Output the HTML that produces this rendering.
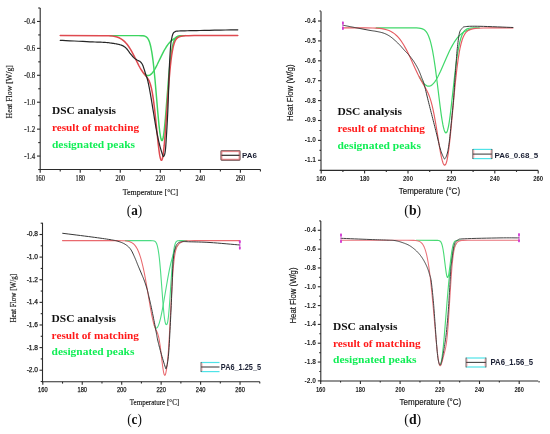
<!DOCTYPE html>
<html><head><meta charset="utf-8"><style>
html,body{margin:0;padding:0;background:#fff;overflow:hidden;}
svg{display:block;}
</style></head><body>
<svg width="550" height="434" viewBox="0 0 550 434">
<rect width="550" height="434" fill="#fff"/>
<line x1="39.7" y1="169.5" x2="260.5" y2="169.5" stroke="#2b2b2b" stroke-width="1.1"/>
<line x1="40.2" y1="8" x2="40.2" y2="170" stroke="#2b2b2b" stroke-width="1.1"/>
<line x1="40.2" y1="169.5" x2="40.2" y2="172.7" stroke="#2b2b2b" stroke-width="1.1"/>
<text x="40.2" y="180.6" font-family="'Liberation Serif', serif" font-size="7.3" text-anchor="middle" fill="#1a1a1a" stroke="#1a1a1a" stroke-width="0.2" textLength="9.53" lengthAdjust="spacingAndGlyphs">160</text>
<line x1="80.24" y1="169.5" x2="80.24" y2="172.7" stroke="#2b2b2b" stroke-width="1.1"/>
<text x="80.24" y="180.6" font-family="'Liberation Serif', serif" font-size="7.3" text-anchor="middle" fill="#1a1a1a" stroke="#1a1a1a" stroke-width="0.2" textLength="9.53" lengthAdjust="spacingAndGlyphs">180</text>
<line x1="120.28" y1="169.5" x2="120.28" y2="172.7" stroke="#2b2b2b" stroke-width="1.1"/>
<text x="120.28" y="180.6" font-family="'Liberation Serif', serif" font-size="7.3" text-anchor="middle" fill="#1a1a1a" stroke="#1a1a1a" stroke-width="0.2" textLength="9.53" lengthAdjust="spacingAndGlyphs">200</text>
<line x1="160.32" y1="169.5" x2="160.32" y2="172.7" stroke="#2b2b2b" stroke-width="1.1"/>
<text x="160.32" y="180.6" font-family="'Liberation Serif', serif" font-size="7.3" text-anchor="middle" fill="#1a1a1a" stroke="#1a1a1a" stroke-width="0.2" textLength="9.53" lengthAdjust="spacingAndGlyphs">220</text>
<line x1="200.36" y1="169.5" x2="200.36" y2="172.7" stroke="#2b2b2b" stroke-width="1.1"/>
<text x="200.36" y="180.6" font-family="'Liberation Serif', serif" font-size="7.3" text-anchor="middle" fill="#1a1a1a" stroke="#1a1a1a" stroke-width="0.2" textLength="9.53" lengthAdjust="spacingAndGlyphs">240</text>
<line x1="240.4" y1="169.5" x2="240.4" y2="172.7" stroke="#2b2b2b" stroke-width="1.1"/>
<text x="240.4" y="180.6" font-family="'Liberation Serif', serif" font-size="7.3" text-anchor="middle" fill="#1a1a1a" stroke="#1a1a1a" stroke-width="0.2" textLength="9.53" lengthAdjust="spacingAndGlyphs">260</text>
<line x1="60.22" y1="169.5" x2="60.22" y2="171.5" stroke="#2b2b2b" stroke-width="1.1"/>
<line x1="100.26" y1="169.5" x2="100.26" y2="171.5" stroke="#2b2b2b" stroke-width="1.1"/>
<line x1="140.3" y1="169.5" x2="140.3" y2="171.5" stroke="#2b2b2b" stroke-width="1.1"/>
<line x1="180.34" y1="169.5" x2="180.34" y2="171.5" stroke="#2b2b2b" stroke-width="1.1"/>
<line x1="220.38" y1="169.5" x2="220.38" y2="171.5" stroke="#2b2b2b" stroke-width="1.1"/>
<line x1="260.42" y1="169.5" x2="260.42" y2="171.5" stroke="#2b2b2b" stroke-width="1.1"/>
<line x1="37" y1="21.46" x2="40.2" y2="21.46" stroke="#2b2b2b" stroke-width="1.1"/>
<text x="35.1" y="24.09" font-family="'Liberation Serif', serif" font-size="7.3" text-anchor="end" fill="#1a1a1a" stroke="#1a1a1a" stroke-width="0.2" textLength="10.75" lengthAdjust="spacingAndGlyphs">-0.4</text>
<line x1="37" y1="48.38" x2="40.2" y2="48.38" stroke="#2b2b2b" stroke-width="1.1"/>
<text x="35.1" y="51.01" font-family="'Liberation Serif', serif" font-size="7.3" text-anchor="end" fill="#1a1a1a" stroke="#1a1a1a" stroke-width="0.2" textLength="10.75" lengthAdjust="spacingAndGlyphs">-0.6</text>
<line x1="37" y1="75.3" x2="40.2" y2="75.3" stroke="#2b2b2b" stroke-width="1.1"/>
<text x="35.1" y="77.93" font-family="'Liberation Serif', serif" font-size="7.3" text-anchor="end" fill="#1a1a1a" stroke="#1a1a1a" stroke-width="0.2" textLength="10.75" lengthAdjust="spacingAndGlyphs">-0.8</text>
<line x1="37" y1="102.22" x2="40.2" y2="102.22" stroke="#2b2b2b" stroke-width="1.1"/>
<text x="35.1" y="104.85" font-family="'Liberation Serif', serif" font-size="7.3" text-anchor="end" fill="#1a1a1a" stroke="#1a1a1a" stroke-width="0.2" textLength="10.75" lengthAdjust="spacingAndGlyphs">-1.0</text>
<line x1="37" y1="129.14" x2="40.2" y2="129.14" stroke="#2b2b2b" stroke-width="1.1"/>
<text x="35.1" y="131.77" font-family="'Liberation Serif', serif" font-size="7.3" text-anchor="end" fill="#1a1a1a" stroke="#1a1a1a" stroke-width="0.2" textLength="10.75" lengthAdjust="spacingAndGlyphs">-1.2</text>
<line x1="37" y1="156.06" x2="40.2" y2="156.06" stroke="#2b2b2b" stroke-width="1.1"/>
<text x="35.1" y="158.69" font-family="'Liberation Serif', serif" font-size="7.3" text-anchor="end" fill="#1a1a1a" stroke="#1a1a1a" stroke-width="0.2" textLength="10.75" lengthAdjust="spacingAndGlyphs">-1.4</text>
<line x1="38.2" y1="8" x2="40.2" y2="8" stroke="#2b2b2b" stroke-width="1.1"/>
<line x1="38.2" y1="34.92" x2="40.2" y2="34.92" stroke="#2b2b2b" stroke-width="1.1"/>
<line x1="38.2" y1="61.84" x2="40.2" y2="61.84" stroke="#2b2b2b" stroke-width="1.1"/>
<line x1="38.2" y1="88.76" x2="40.2" y2="88.76" stroke="#2b2b2b" stroke-width="1.1"/>
<line x1="38.2" y1="115.68" x2="40.2" y2="115.68" stroke="#2b2b2b" stroke-width="1.1"/>
<line x1="38.2" y1="142.6" x2="40.2" y2="142.6" stroke="#2b2b2b" stroke-width="1.1"/>
<line x1="38.2" y1="169.52" x2="40.2" y2="169.52" stroke="#2b2b2b" stroke-width="1.1"/>
<text x="150.5" y="195.3" font-family="'Liberation Serif', serif" font-size="8" text-anchor="middle" fill="#111" stroke="#111" stroke-width="0.15" textLength="55.5" lengthAdjust="spacingAndGlyphs">Temperature [°C]</text>
<text x="12" y="91.8" font-family="'Liberation Serif', serif" font-size="8" text-anchor="middle" fill="#111" stroke="#111" stroke-width="0.15" transform="rotate(-90 12 91.8)" textLength="53.4" lengthAdjust="spacingAndGlyphs">Heat Flow [W/g]</text>
<text x="134.5" y="214.5" font-family="'Liberation Serif', serif" font-size="15" text-anchor="middle" fill="#111" textLength="15.4" lengthAdjust="spacingAndGlyphs">(<tspan font-weight="bold">a</tspan>)</text>
<polyline points="143.8,73.22 145,74.37 145.8,74.93 147,75.46 147.8,75.59 148.6,75.55 149.4,75.3 150.2,74.87 151.4,73.89 152.2,73.02 153,71.99 153.8,70.82 155,68.84 157,65.05 161.8,55.07 163.8,51.17 165,49.01 166.2,47.03 168.2,44.15 169.4,42.68 170.6,41.4 171.8,40.3 173.4,39.09 174.6,38.36 176.2,37.58 177.8,36.99 179.4,36.56" fill="none" stroke="#3dd460" stroke-width="1.45" stroke-linejoin="round" stroke-linecap="round"/>
<polyline points="109.8,35.6 138.6,35.61 141.4,35.66 143,35.77 144.6,36.08 145.4,36.38 146.2,36.84 147,37.52 147.4,37.96 148.2,39.14 148.6,39.9 149.4,41.83 149.8,43.03 150.6,46 151,47.8 151.8,52.09 152.2,54.62 153,60.46 153.8,67.35 155,79.54 157.8,112.38 159,125.14 159.8,132.02 160.6,137.1 161,138.85 161.4,140.03 161.8,140.63 162.2,140.61 162.6,139.92 163,138.53 163.4,136.5 164.2,130.62 165.4,118.21 168.2,82.8 169.4,69.2 170.2,61.51 171,55.06 171.8,49.82 172.6,45.73 173.4,42.62 174.2,40.34 174.6,39.45 175.4,38.1 175.8,37.59 176.6,36.84 177,36.57 177.8,36.18 178.6,35.94 179.4,35.79 181.4,35.64 185,35.6" fill="none" stroke="#3dd460" stroke-width="1.45" stroke-linejoin="round" stroke-linecap="round"/>
<polyline points="60.2,35.6 102.6,35.63 108.6,35.78 112.6,36.12 115,36.51 117,37.02 119,37.76 120.6,38.55 122.2,39.57 123.8,40.84 125.4,42.39 126.6,43.76 127.8,45.3 129,47.02 130.2,48.91 131.4,50.96 133.8,55.46 139,65.8 140.2,68.01 141.4,70.04 143.4,72.99 147,77.38 148.2,79.14 149,80.64 149.4,81.53 150.2,83.69 150.6,84.99 151.4,88.11 152.2,92.04 153,96.85 153.8,102.58 154.6,109.18 155.4,116.52 158.2,143.87 159,150.46 159.4,153.26 159.8,155.65 160.2,157.6 160.6,159.04 161,159.96 161.4,160.32 161.8,160.1 162.2,159.28 162.6,157.78 163,155.62 163.4,152.81 164.2,145.45 165.4,130.95 167.8,96.85 169,81.03 170.2,67.72 171,60.47 171.8,54.52 172.2,52.01 173,47.82 173.4,46.11 174.2,43.32 175,41.25 175.8,39.75 176.6,38.66 177.4,37.88 178.2,37.32 179,36.91 180.2,36.5 181.4,36.23 183,36 185,35.83 188.6,35.68 194.2,35.61 237.8,35.6" fill="none" stroke="#df4a50" stroke-width="1.5" stroke-linejoin="round" stroke-linecap="round"/>
<polyline points="60.2,40.3 62.6,40.42 65.9,40.59 69.84,40.79 74.16,41.01 78.6,41.24 82.89,41.45 86.78,41.65 90,41.8 92.64,41.92 94.98,42.01 97.06,42.08 98.93,42.14 100.62,42.2 102.17,42.26 103.61,42.32 105,42.4 106.25,42.49 107.29,42.58 108.18,42.67 108.96,42.76 109.67,42.86 110.36,42.97 111.09,43.08 111.9,43.2 112.78,43.33 113.68,43.46 114.59,43.6 115.49,43.74 116.38,43.9 117.24,44.06 118.05,44.22 118.8,44.4 119.49,44.58 120.14,44.76 120.74,44.95 121.31,45.14 121.86,45.35 122.38,45.58 122.89,45.83 123.4,46.1 123.89,46.39 124.35,46.7 124.8,47.02 125.23,47.37 125.64,47.74 126.06,48.13 126.47,48.55 126.9,49 127.33,49.5 127.75,50.04 128.18,50.63 128.6,51.23 129.02,51.84 129.45,52.45 129.87,53.04 130.3,53.6 130.73,54.14 131.17,54.68 131.61,55.21 132.05,55.73 132.49,56.24 132.93,56.72 133.37,57.18 133.8,57.6 134.23,57.99 134.67,58.35 135.1,58.69 135.54,59.01 135.97,59.3 136.39,59.58 136.8,59.85 137.2,60.1 137.59,60.33 137.97,60.51 138.35,60.67 138.72,60.82 139.08,60.98 139.43,61.15 139.77,61.35 140.1,61.6 140.42,61.88 140.73,62.19 141.03,62.51 141.33,62.86 141.61,63.23 141.88,63.62 142.15,64.05 142.4,64.5 142.64,64.99 142.86,65.5 143.08,66.05 143.28,66.62 143.48,67.21 143.68,67.83 143.89,68.46 144.1,69.1 144.32,69.77 144.55,70.48 144.77,71.22 145,71.97 145.23,72.72 145.45,73.47 145.68,74.2 145.9,74.9 146.11,75.52 146.31,76.04 146.51,76.53 146.7,77.01 146.9,77.55 147.11,78.2 147.35,79 147.6,80 147.88,81.19 148.17,82.52 148.49,83.98 148.81,85.56 149.15,87.24 149.49,89.01 149.84,90.87 150.2,92.8 150.56,94.85 150.94,97.04 151.33,99.35 151.72,101.74 152.12,104.17 152.51,106.61 152.91,109.04 153.3,111.4 153.69,113.75 154.08,116.15 154.46,118.56 154.85,120.96 155.24,123.33 155.63,125.64 156.01,127.87 156.4,130 156.79,132.04 157.18,134.01 157.56,135.92 157.95,137.76 158.34,139.54 158.72,141.26 159.11,142.91 159.5,144.5 159.9,146.06 160.32,147.6 160.75,149.1 161.17,150.53 161.58,151.85 161.96,153.04 162.3,154.06 162.6,154.9 162.84,155.54 163.03,156.02 163.18,156.34 163.3,156.52 163.41,156.59 163.52,156.55 163.65,156.41 163.8,156.2 163.98,155.93 164.16,155.61 164.35,155.2 164.55,154.68 164.75,154.03 164.94,153.21 165.12,152.21 165.3,151 165.46,149.57 165.62,147.94 165.77,146.12 165.91,144.15 166.06,142.03 166.2,139.79 166.35,137.44 166.5,135 166.66,132.4 166.83,129.58 167,126.61 167.18,123.54 167.34,120.42 167.51,117.32 167.66,114.3 167.8,111.4 167.92,108.62 168.04,105.91 168.14,103.24 168.24,100.6 168.33,97.97 168.42,95.34 168.51,92.69 168.6,90 168.69,87.28 168.77,84.53 168.84,81.78 168.92,79.01 169,76.25 169.09,73.49 169.18,70.73 169.3,68 169.44,65.18 169.59,62.24 169.76,59.25 169.93,56.29 170.11,53.44 170.28,50.79 170.45,48.42 170.6,46.4 170.74,44.78 170.86,43.5 170.98,42.48 171.1,41.66 171.22,40.98 171.34,40.35 171.46,39.71 171.6,39 171.74,38.24 171.89,37.51 172.04,36.82 172.19,36.17 172.36,35.56 172.53,34.99 172.71,34.47 172.9,34 173.09,33.59 173.28,33.24 173.47,32.95 173.68,32.69 173.9,32.47 174.16,32.27 174.45,32.09 174.8,31.9 175.09,31.73 175.27,31.58 175.43,31.46 175.65,31.35 176.02,31.26 176.63,31.17 177.56,31.09 178.9,31 180.61,30.92 182.59,30.85 184.83,30.79 187.34,30.74 190.12,30.68 193.15,30.63 196.45,30.57 200,30.5 204.18,30.42 209.16,30.32 214.61,30.22 220.22,30.12 225.66,30.02 230.62,29.93 234.77,29.86 237.8,29.8" fill="none" stroke="#262626" stroke-width="1.2" stroke-linejoin="round" stroke-linecap="round"/>
<rect x="221" y="150.8" width="19" height="9.3" rx="0.6" fill="none" stroke="#6a4446" stroke-width="1.1"/>
<rect x="221.9" y="151.7" width="17.2" height="7.5" fill="none" stroke="#e4676c" stroke-width="0.8"/>
<line x1="221.5" y1="155.3" x2="239.5" y2="155.3" stroke="#2a2a2a" stroke-width="1.2"/>
<text x="242.1" y="157.9" font-family="'Liberation Sans', Arial, sans-serif" font-size="8.0" text-anchor="start" fill="#1a1f33" font-weight="bold" textLength="14.9" lengthAdjust="spacingAndGlyphs">PA6</text>
<text x="52" y="114.4" font-family="'Liberation Serif', serif" font-size="11" text-anchor="start" fill="#111" font-weight="bold" textLength="64" lengthAdjust="spacingAndGlyphs">DSC analysis</text>
<text x="52" y="131.4" font-family="'Liberation Serif', serif" font-size="11" text-anchor="start" fill="#ff1a1a" font-weight="bold" textLength="87" lengthAdjust="spacingAndGlyphs">result of matching</text>
<text x="52" y="148" font-family="'Liberation Serif', serif" font-size="11" text-anchor="start" fill="#10ee55" font-weight="bold" textLength="83" lengthAdjust="spacingAndGlyphs">designated peaks</text>
<line x1="320.5" y1="170.4" x2="538.2" y2="170.4" stroke="#2b2b2b" stroke-width="1.1"/>
<line x1="321" y1="11.2" x2="321" y2="170.9" stroke="#2b2b2b" stroke-width="1.1"/>
<line x1="321.2" y1="170.4" x2="321.2" y2="173.4" stroke="#2b2b2b" stroke-width="1.1"/>
<text x="321.2" y="181.3" font-family="'Liberation Sans', Arial, sans-serif" font-size="7" text-anchor="middle" fill="#222" font-weight="bold" textLength="9.93" lengthAdjust="spacingAndGlyphs">160</text>
<line x1="364.6" y1="170.4" x2="364.6" y2="173.4" stroke="#2b2b2b" stroke-width="1.1"/>
<text x="364.6" y="181.3" font-family="'Liberation Sans', Arial, sans-serif" font-size="7" text-anchor="middle" fill="#222" font-weight="bold" textLength="9.93" lengthAdjust="spacingAndGlyphs">180</text>
<line x1="408" y1="170.4" x2="408" y2="173.4" stroke="#2b2b2b" stroke-width="1.1"/>
<text x="408" y="181.3" font-family="'Liberation Sans', Arial, sans-serif" font-size="7" text-anchor="middle" fill="#222" font-weight="bold" textLength="9.93" lengthAdjust="spacingAndGlyphs">200</text>
<line x1="451.4" y1="170.4" x2="451.4" y2="173.4" stroke="#2b2b2b" stroke-width="1.1"/>
<text x="451.4" y="181.3" font-family="'Liberation Sans', Arial, sans-serif" font-size="7" text-anchor="middle" fill="#222" font-weight="bold" textLength="9.93" lengthAdjust="spacingAndGlyphs">220</text>
<line x1="494.8" y1="170.4" x2="494.8" y2="173.4" stroke="#2b2b2b" stroke-width="1.1"/>
<text x="494.8" y="181.3" font-family="'Liberation Sans', Arial, sans-serif" font-size="7" text-anchor="middle" fill="#222" font-weight="bold" textLength="9.93" lengthAdjust="spacingAndGlyphs">240</text>
<line x1="538.2" y1="170.4" x2="538.2" y2="173.4" stroke="#2b2b2b" stroke-width="1.1"/>
<text x="538.2" y="181.3" font-family="'Liberation Sans', Arial, sans-serif" font-size="7" text-anchor="middle" fill="#222" font-weight="bold" textLength="9.93" lengthAdjust="spacingAndGlyphs">260</text>
<line x1="342.9" y1="170.4" x2="342.9" y2="171.9" stroke="#2b2b2b" stroke-width="1.1"/>
<line x1="386.3" y1="170.4" x2="386.3" y2="171.9" stroke="#2b2b2b" stroke-width="1.1"/>
<line x1="429.7" y1="170.4" x2="429.7" y2="171.9" stroke="#2b2b2b" stroke-width="1.1"/>
<line x1="473.1" y1="170.4" x2="473.1" y2="171.9" stroke="#2b2b2b" stroke-width="1.1"/>
<line x1="516.5" y1="170.4" x2="516.5" y2="171.9" stroke="#2b2b2b" stroke-width="1.1"/>
<line x1="318" y1="21" x2="321" y2="21" stroke="#2b2b2b" stroke-width="1.1"/>
<text x="316" y="22.96" font-family="'Liberation Sans', Arial, sans-serif" font-size="7" text-anchor="end" fill="#222" font-weight="bold" textLength="11.22" lengthAdjust="spacingAndGlyphs">-0.4</text>
<line x1="318" y1="40.9" x2="321" y2="40.9" stroke="#2b2b2b" stroke-width="1.1"/>
<text x="316" y="42.86" font-family="'Liberation Sans', Arial, sans-serif" font-size="7" text-anchor="end" fill="#222" font-weight="bold" textLength="11.22" lengthAdjust="spacingAndGlyphs">-0.5</text>
<line x1="318" y1="60.8" x2="321" y2="60.8" stroke="#2b2b2b" stroke-width="1.1"/>
<text x="316" y="62.76" font-family="'Liberation Sans', Arial, sans-serif" font-size="7" text-anchor="end" fill="#222" font-weight="bold" textLength="11.22" lengthAdjust="spacingAndGlyphs">-0.6</text>
<line x1="318" y1="80.7" x2="321" y2="80.7" stroke="#2b2b2b" stroke-width="1.1"/>
<text x="316" y="82.66" font-family="'Liberation Sans', Arial, sans-serif" font-size="7" text-anchor="end" fill="#222" font-weight="bold" textLength="11.22" lengthAdjust="spacingAndGlyphs">-0.7</text>
<line x1="318" y1="100.6" x2="321" y2="100.6" stroke="#2b2b2b" stroke-width="1.1"/>
<text x="316" y="102.56" font-family="'Liberation Sans', Arial, sans-serif" font-size="7" text-anchor="end" fill="#222" font-weight="bold" textLength="11.22" lengthAdjust="spacingAndGlyphs">-0.8</text>
<line x1="318" y1="120.5" x2="321" y2="120.5" stroke="#2b2b2b" stroke-width="1.1"/>
<text x="316" y="122.46" font-family="'Liberation Sans', Arial, sans-serif" font-size="7" text-anchor="end" fill="#222" font-weight="bold" textLength="11.22" lengthAdjust="spacingAndGlyphs">-0.9</text>
<line x1="318" y1="140.4" x2="321" y2="140.4" stroke="#2b2b2b" stroke-width="1.1"/>
<text x="316" y="142.36" font-family="'Liberation Sans', Arial, sans-serif" font-size="7" text-anchor="end" fill="#222" font-weight="bold" textLength="11.22" lengthAdjust="spacingAndGlyphs">-1.0</text>
<line x1="318" y1="160.3" x2="321" y2="160.3" stroke="#2b2b2b" stroke-width="1.1"/>
<text x="316" y="162.26" font-family="'Liberation Sans', Arial, sans-serif" font-size="7" text-anchor="end" fill="#222" font-weight="bold" textLength="11.22" lengthAdjust="spacingAndGlyphs">-1.1</text>
<line x1="319.5" y1="11.05" x2="321" y2="11.05" stroke="#2b2b2b" stroke-width="1.1"/>
<line x1="319.5" y1="30.95" x2="321" y2="30.95" stroke="#2b2b2b" stroke-width="1.1"/>
<line x1="319.5" y1="50.85" x2="321" y2="50.85" stroke="#2b2b2b" stroke-width="1.1"/>
<line x1="319.5" y1="70.75" x2="321" y2="70.75" stroke="#2b2b2b" stroke-width="1.1"/>
<line x1="319.5" y1="90.65" x2="321" y2="90.65" stroke="#2b2b2b" stroke-width="1.1"/>
<line x1="319.5" y1="110.55" x2="321" y2="110.55" stroke="#2b2b2b" stroke-width="1.1"/>
<line x1="319.5" y1="130.45" x2="321" y2="130.45" stroke="#2b2b2b" stroke-width="1.1"/>
<line x1="319.5" y1="150.35" x2="321" y2="150.35" stroke="#2b2b2b" stroke-width="1.1"/>
<line x1="319.5" y1="170.25" x2="321" y2="170.25" stroke="#2b2b2b" stroke-width="1.1"/>
<text x="429.4" y="194.4" font-family="'Liberation Sans', Arial, sans-serif" font-size="8.6" text-anchor="middle" fill="#111" stroke="#111" stroke-width="0.15" textLength="61.3" lengthAdjust="spacingAndGlyphs">Temperature (°C)</text>
<text x="293.4" y="92.7" font-family="'Liberation Sans', Arial, sans-serif" font-size="8.4" text-anchor="middle" fill="#111" stroke="#111" stroke-width="0.15" transform="rotate(-90 293.4 92.7)" textLength="56.4" lengthAdjust="spacingAndGlyphs">Heat Flow (W/g)</text>
<text x="412.7" y="214.5" font-family="'Liberation Serif', serif" font-size="15" text-anchor="middle" fill="#111" textLength="16.8" lengthAdjust="spacingAndGlyphs">(<tspan font-weight="bold">b</tspan>)</text>
<polyline points="419.36,76.88 421.35,80.22 422.95,82.43 423.75,83.37 424.55,84.18 425.35,84.86 426.15,85.41 426.95,85.81 427.75,86.07 428.55,86.19 429.35,86.16 430.15,85.97 430.95,85.62 431.75,85.11 432.55,84.45 433.75,83.19 434.95,81.62 436.15,79.78 437.74,76.93 438.94,74.56 440.54,71.16 446.54,57.41 449.34,51.3 450.94,48.09 452.54,45.13 454.13,42.44 455.33,40.6 456.93,38.41 458.53,36.51 460.13,34.87 462.13,33.17 463.73,32.06 465.73,30.95 467.73,30.1 470.13,29.35" fill="none" stroke="#40d86a" stroke-width="1.2" stroke-linejoin="round" stroke-linecap="round"/>
<polyline points="376.18,27.9 412.56,27.91 416.56,27.97 418.96,28.12 420.55,28.35 421.75,28.64 422.95,29.09 423.75,29.52 424.55,30.07 425.35,30.78 426.15,31.69 426.95,32.82 427.75,34.23 428.55,35.95 429.75,39.22 430.55,41.92 431.35,45.08 432.55,50.72 433.75,57.5 435.35,68.21 436.94,80.49 440.14,106.52 441.34,115.34 442.14,120.51 442.94,124.93 443.34,126.82 444.14,129.88 444.54,131.03 444.94,131.91 445.34,132.51 445.74,132.84 446.14,132.88 446.54,132.58 446.94,131.93 447.34,130.94 447.74,129.62 448.54,126.03 449.34,121.31 450.14,115.63 450.94,109.19 454.53,76.76 455.73,66.72 456.53,60.65 457.73,52.64 458.53,48.08 459.73,42.4 460.93,38 462.13,34.73 462.53,33.86 463.33,32.38 464.13,31.23 464.93,30.34 465.73,29.66 466.53,29.16 467.33,28.78 468.13,28.51 469.33,28.25 470.52,28.09 473.32,27.94 479.32,27.9" fill="none" stroke="#40d86a" stroke-width="1.2" stroke-linejoin="round" stroke-linecap="round"/>
<polyline points="343,27.9 364.19,27.92 372.98,28.03 376.58,28.18 379.38,28.39 381.78,28.68 384.18,29.09 386.57,29.69 388.97,30.53 390.97,31.46 392.97,32.65 394.97,34.14 396.97,35.96 398.97,38.15 400.57,40.19 402.17,42.49 403.76,45.04 405.36,47.84 406.96,50.87 409.76,56.62 415.36,68.9 417.76,73.97 419.36,77.14 420.95,80.12 425.35,87.74 426.55,89.95 428.15,93.3 428.95,95.24 429.75,97.41 430.95,101.16 432.15,105.62 432.95,109.03 434.15,114.81 436.15,126.07 439.74,148.37 440.54,152.84 441.34,156.82 442.14,160.17 442.94,162.75 443.34,163.72 443.74,164.44 444.14,164.92 444.54,165.13 444.94,165.09 445.34,164.77 445.74,164.17 446.14,163.29 446.54,162.09 446.94,160.54 447.74,156.45 448.14,153.93 448.94,148.04 449.74,141.15 450.94,129.38 454.13,94.84 455.33,82.66 456.93,68.34 458.13,59.34 459.33,51.89 460.13,47.76 460.93,44.25 462.13,40 462.93,37.76 463.73,35.93 464.53,34.43 465.73,32.71 466.53,31.84 467.73,30.83 468.93,30.11 470.13,29.58 471.72,29.08 473.72,28.67 475.72,28.41 477.72,28.23 483.72,27.99 491.71,27.91 512.9,27.9" fill="none" stroke="#e65c62" stroke-width="1.15" stroke-linejoin="round" stroke-linecap="round"/>
<polyline points="343,25.2 343.46,25.29 344.09,25.42 344.82,25.57 345.64,25.73 346.51,25.9 347.38,26.08 348.22,26.25 349,26.4 349.72,26.54 350.41,26.68 351.09,26.81 351.77,26.94 352.46,27.07 353.17,27.21 353.91,27.35 354.7,27.5 355.53,27.66 356.4,27.83 357.29,28 358.21,28.18 359.14,28.35 360.09,28.54 361.04,28.72 362,28.9 362.97,29.09 363.98,29.28 365,29.47 366.02,29.67 367.05,29.86 368.06,30.05 369.05,30.23 370,30.4 370.92,30.55 371.8,30.69 372.67,30.82 373.52,30.94 374.36,31.06 375.2,31.19 376.05,31.34 376.9,31.5 377.77,31.68 378.65,31.85 379.54,32.04 380.42,32.24 381.29,32.45 382.15,32.68 382.99,32.93 383.8,33.2 384.58,33.49 385.33,33.8 386.06,34.12 386.78,34.47 387.48,34.84 388.18,35.23 388.89,35.65 389.6,36.1 390.32,36.59 391.06,37.13 391.79,37.7 392.52,38.29 393.24,38.9 393.95,39.51 394.64,40.11 395.3,40.7 395.94,41.27 396.55,41.84 397.14,42.4 397.72,42.96 398.29,43.53 398.86,44.11 399.42,44.7 400,45.3 400.58,45.92 401.16,46.56 401.73,47.22 402.31,47.88 402.88,48.55 403.45,49.21 404.03,49.86 404.6,50.5 405.18,51.12 405.75,51.72 406.33,52.31 406.9,52.89 407.48,53.49 408.05,54.1 408.63,54.73 409.2,55.4 409.78,56.11 410.38,56.85 410.98,57.62 411.58,58.4 412.16,59.19 412.73,59.98 413.28,60.75 413.8,61.5 414.29,62.24 414.76,62.97 415.21,63.71 415.64,64.43 416.06,65.15 416.46,65.85 416.84,66.53 417.2,67.2 417.54,67.84 417.85,68.44 418.15,69.03 418.43,69.6 418.69,70.17 418.96,70.76 419.22,71.36 419.5,72 419.78,72.66 420.05,73.35 420.32,74.04 420.59,74.75 420.86,75.47 421.14,76.2 421.42,76.95 421.7,77.7 421.98,78.4 422.25,79.02 422.52,79.62 422.79,80.24 423.07,80.95 423.38,81.79 423.72,82.83 424.1,84.1 424.52,85.66 424.99,87.46 425.48,89.46 425.99,91.59 426.52,93.79 427.06,96.02 427.58,98.21 428.1,100.3 428.61,102.33 429.12,104.35 429.63,106.38 430.14,108.4 430.66,110.42 431.17,112.45 431.69,114.47 432.2,116.5 432.71,118.52 433.23,120.55 433.74,122.57 434.26,124.59 434.77,126.62 435.28,128.64 435.79,130.67 436.3,132.7 436.81,134.79 437.33,136.96 437.85,139.17 438.36,141.36 438.87,143.48 439.37,145.5 439.84,147.35 440.3,149 440.74,150.45 441.17,151.75 441.59,152.92 442,153.97 442.39,154.9 442.75,155.72 443.09,156.45 443.4,157.1 443.67,157.66 443.89,158.13 444.07,158.5 444.24,158.76 444.41,158.92 444.58,158.97 444.77,158.89 445,158.7 445.26,158.38 445.55,157.94 445.86,157.38 446.18,156.71 446.49,155.93 446.81,155.05 447.11,154.07 447.4,153 447.67,151.85 447.93,150.62 448.17,149.29 448.42,147.86 448.66,146.32 448.9,144.65 449.15,142.85 449.4,140.9 449.66,138.75 449.92,136.4 450.18,133.89 450.45,131.26 450.72,128.57 450.98,125.87 451.24,123.19 451.5,120.6 451.76,118.06 452.02,115.52 452.28,112.99 452.54,110.45 452.8,107.91 453.04,105.37 453.28,102.84 453.5,100.3 453.7,97.75 453.89,95.17 454.07,92.59 454.24,90.01 454.41,87.44 454.57,84.91 454.73,82.43 454.9,80 455.07,77.61 455.24,75.24 455.4,72.89 455.57,70.58 455.73,68.33 455.89,66.14 456.05,64.02 456.2,62 456.34,60.1 456.47,58.33 456.58,56.65 456.7,55.02 456.82,53.42 456.96,51.81 457.12,50.15 457.3,48.4 457.51,46.51 457.74,44.47 457.99,42.36 458.25,40.25 458.52,38.21 458.81,36.31 459.1,34.61 459.4,33.2 459.7,32.08 460.01,31.2 460.33,30.51 460.66,29.96 461,29.52 461.35,29.15 461.72,28.79 462.1,28.4 462.42,28.02 462.66,27.7 462.87,27.44 463.12,27.22 463.45,27.03 463.94,26.87 464.64,26.73 465.6,26.6 466.75,26.48 468,26.38 469.39,26.31 470.96,26.26 472.77,26.24 474.84,26.23 477.24,26.26 480,26.3 483.45,26.39 487.7,26.52 492.43,26.69 497.35,26.88 502.16,27.07 506.55,27.25 510.24,27.4 512.9,27.5" fill="none" stroke="#383838" stroke-width="1.0" stroke-linejoin="round" stroke-linecap="round"/>
<line x1="342.9" y1="21.5" x2="342.9" y2="29.8" stroke="#d23ad2" stroke-width="0.7"/>
<rect x="342" y="21.5" width="1.8" height="3" rx="0.9" fill="#d23ad2"/>
<rect x="342" y="26.8" width="1.8" height="3" rx="0.9" fill="#d23ad2"/>
<line x1="472.9" y1="149.4" x2="491.9" y2="149.4" stroke="#4fe3e8" stroke-width="1.2"/>
<line x1="472.9" y1="158.6" x2="491.9" y2="158.6" stroke="#4fe3e8" stroke-width="1.2"/>
<line x1="472.9" y1="149" x2="472.9" y2="159" stroke="#3a3a3a" stroke-width="0.9"/>
<line x1="473.8" y1="150" x2="473.8" y2="158" stroke="#f09a9e" stroke-width="0.8"/>
<line x1="491.9" y1="149" x2="491.9" y2="159" stroke="#3a3a3a" stroke-width="0.9"/>
<line x1="491" y1="150" x2="491" y2="158" stroke="#f09a9e" stroke-width="0.8"/>
<line x1="472.9" y1="154.1" x2="491.9" y2="154.1" stroke="#444" stroke-width="1.1"/>
<text x="494.5" y="157.9" font-family="'Liberation Sans', Arial, sans-serif" font-size="8.0" text-anchor="start" fill="#1a1f33" font-weight="bold" textLength="43.7" lengthAdjust="spacingAndGlyphs">PA6_0.68_5</text>
<text x="337.4" y="115" font-family="'Liberation Serif', serif" font-size="11" text-anchor="start" fill="#111" font-weight="bold" textLength="64.6" lengthAdjust="spacingAndGlyphs">DSC analysis</text>
<text x="337.4" y="132" font-family="'Liberation Serif', serif" font-size="11" text-anchor="start" fill="#ff1a1a" font-weight="bold" textLength="87.6" lengthAdjust="spacingAndGlyphs">result of matching</text>
<text x="337.4" y="148.6" font-family="'Liberation Serif', serif" font-size="11" text-anchor="start" fill="#10ee55" font-weight="bold" textLength="83.6" lengthAdjust="spacingAndGlyphs">designated peaks</text>
<line x1="42" y1="381.8" x2="259.8" y2="381.8" stroke="#2b2b2b" stroke-width="1.1"/>
<line x1="42.5" y1="222.8" x2="42.5" y2="382.3" stroke="#2b2b2b" stroke-width="1.1"/>
<line x1="42.8" y1="381.8" x2="42.8" y2="384.8" stroke="#2b2b2b" stroke-width="1.1"/>
<text x="42.8" y="392.4" font-family="'Liberation Sans', Arial, sans-serif" font-size="6.8" text-anchor="middle" fill="#1a1a1a" stroke="#1a1a1a" stroke-width="0.25" textLength="9.53" lengthAdjust="spacingAndGlyphs">160</text>
<line x1="82.25" y1="381.8" x2="82.25" y2="384.8" stroke="#2b2b2b" stroke-width="1.1"/>
<text x="82.25" y="392.4" font-family="'Liberation Sans', Arial, sans-serif" font-size="6.8" text-anchor="middle" fill="#1a1a1a" stroke="#1a1a1a" stroke-width="0.25" textLength="9.53" lengthAdjust="spacingAndGlyphs">180</text>
<line x1="121.7" y1="381.8" x2="121.7" y2="384.8" stroke="#2b2b2b" stroke-width="1.1"/>
<text x="121.7" y="392.4" font-family="'Liberation Sans', Arial, sans-serif" font-size="6.8" text-anchor="middle" fill="#1a1a1a" stroke="#1a1a1a" stroke-width="0.25" textLength="9.53" lengthAdjust="spacingAndGlyphs">200</text>
<line x1="161.15" y1="381.8" x2="161.15" y2="384.8" stroke="#2b2b2b" stroke-width="1.1"/>
<text x="161.15" y="392.4" font-family="'Liberation Sans', Arial, sans-serif" font-size="6.8" text-anchor="middle" fill="#1a1a1a" stroke="#1a1a1a" stroke-width="0.25" textLength="9.53" lengthAdjust="spacingAndGlyphs">220</text>
<line x1="200.6" y1="381.8" x2="200.6" y2="384.8" stroke="#2b2b2b" stroke-width="1.1"/>
<text x="200.6" y="392.4" font-family="'Liberation Sans', Arial, sans-serif" font-size="6.8" text-anchor="middle" fill="#1a1a1a" stroke="#1a1a1a" stroke-width="0.25" textLength="9.53" lengthAdjust="spacingAndGlyphs">240</text>
<line x1="240.05" y1="381.8" x2="240.05" y2="384.8" stroke="#2b2b2b" stroke-width="1.1"/>
<text x="240.05" y="392.4" font-family="'Liberation Sans', Arial, sans-serif" font-size="6.8" text-anchor="middle" fill="#1a1a1a" stroke="#1a1a1a" stroke-width="0.25" textLength="9.53" lengthAdjust="spacingAndGlyphs">260</text>
<line x1="62.52" y1="381.8" x2="62.52" y2="383.6" stroke="#2b2b2b" stroke-width="1.1"/>
<line x1="101.97" y1="381.8" x2="101.97" y2="383.6" stroke="#2b2b2b" stroke-width="1.1"/>
<line x1="141.43" y1="381.8" x2="141.43" y2="383.6" stroke="#2b2b2b" stroke-width="1.1"/>
<line x1="180.88" y1="381.8" x2="180.88" y2="383.6" stroke="#2b2b2b" stroke-width="1.1"/>
<line x1="220.32" y1="381.8" x2="220.32" y2="383.6" stroke="#2b2b2b" stroke-width="1.1"/>
<line x1="259.77" y1="381.8" x2="259.77" y2="383.6" stroke="#2b2b2b" stroke-width="1.1"/>
<line x1="39.5" y1="234.5" x2="42.5" y2="234.5" stroke="#2b2b2b" stroke-width="1.1"/>
<text x="38" y="236.4" font-family="'Liberation Sans', Arial, sans-serif" font-size="6.8" text-anchor="end" fill="#1a1a1a" stroke="#1a1a1a" stroke-width="0.25" textLength="11.37" lengthAdjust="spacingAndGlyphs">-0.8</text>
<line x1="39.5" y1="257.12" x2="42.5" y2="257.12" stroke="#2b2b2b" stroke-width="1.1"/>
<text x="38" y="259.02" font-family="'Liberation Sans', Arial, sans-serif" font-size="6.8" text-anchor="end" fill="#1a1a1a" stroke="#1a1a1a" stroke-width="0.25" textLength="11.37" lengthAdjust="spacingAndGlyphs">-1.0</text>
<line x1="39.5" y1="279.74" x2="42.5" y2="279.74" stroke="#2b2b2b" stroke-width="1.1"/>
<text x="38" y="281.64" font-family="'Liberation Sans', Arial, sans-serif" font-size="6.8" text-anchor="end" fill="#1a1a1a" stroke="#1a1a1a" stroke-width="0.25" textLength="11.37" lengthAdjust="spacingAndGlyphs">-1.2</text>
<line x1="39.5" y1="302.36" x2="42.5" y2="302.36" stroke="#2b2b2b" stroke-width="1.1"/>
<text x="38" y="304.26" font-family="'Liberation Sans', Arial, sans-serif" font-size="6.8" text-anchor="end" fill="#1a1a1a" stroke="#1a1a1a" stroke-width="0.25" textLength="11.37" lengthAdjust="spacingAndGlyphs">-1.4</text>
<line x1="39.5" y1="324.98" x2="42.5" y2="324.98" stroke="#2b2b2b" stroke-width="1.1"/>
<text x="38" y="326.88" font-family="'Liberation Sans', Arial, sans-serif" font-size="6.8" text-anchor="end" fill="#1a1a1a" stroke="#1a1a1a" stroke-width="0.25" textLength="11.37" lengthAdjust="spacingAndGlyphs">-1.6</text>
<line x1="39.5" y1="347.6" x2="42.5" y2="347.6" stroke="#2b2b2b" stroke-width="1.1"/>
<text x="38" y="349.5" font-family="'Liberation Sans', Arial, sans-serif" font-size="6.8" text-anchor="end" fill="#1a1a1a" stroke="#1a1a1a" stroke-width="0.25" textLength="11.37" lengthAdjust="spacingAndGlyphs">-1.8</text>
<line x1="39.5" y1="370.22" x2="42.5" y2="370.22" stroke="#2b2b2b" stroke-width="1.1"/>
<text x="38" y="372.12" font-family="'Liberation Sans', Arial, sans-serif" font-size="6.8" text-anchor="end" fill="#1a1a1a" stroke="#1a1a1a" stroke-width="0.25" textLength="11.37" lengthAdjust="spacingAndGlyphs">-2.0</text>
<line x1="40.7" y1="223.19" x2="42.5" y2="223.19" stroke="#2b2b2b" stroke-width="1.1"/>
<line x1="40.7" y1="245.81" x2="42.5" y2="245.81" stroke="#2b2b2b" stroke-width="1.1"/>
<line x1="40.7" y1="268.43" x2="42.5" y2="268.43" stroke="#2b2b2b" stroke-width="1.1"/>
<line x1="40.7" y1="291.05" x2="42.5" y2="291.05" stroke="#2b2b2b" stroke-width="1.1"/>
<line x1="40.7" y1="313.67" x2="42.5" y2="313.67" stroke="#2b2b2b" stroke-width="1.1"/>
<line x1="40.7" y1="336.29" x2="42.5" y2="336.29" stroke="#2b2b2b" stroke-width="1.1"/>
<line x1="40.7" y1="358.91" x2="42.5" y2="358.91" stroke="#2b2b2b" stroke-width="1.1"/>
<line x1="40.7" y1="381.53" x2="42.5" y2="381.53" stroke="#2b2b2b" stroke-width="1.1"/>
<text x="154.5" y="405.2" font-family="'Liberation Serif', serif" font-size="8" text-anchor="middle" fill="#111" stroke="#111" stroke-width="0.15" textLength="49.4" lengthAdjust="spacingAndGlyphs">Temperature [°C]</text>
<text x="16.3" y="298.2" font-family="'Liberation Serif', serif" font-size="7.5" text-anchor="middle" fill="#111" stroke="#111" stroke-width="0.15" transform="rotate(-90 16.3 298.2)" textLength="48.8" lengthAdjust="spacingAndGlyphs">Heat Flow [W/g]</text>
<text x="134.5" y="424.2" font-family="'Liberation Serif', serif" font-size="15" text-anchor="middle" fill="#111" textLength="14.7" lengthAdjust="spacingAndGlyphs">(<tspan font-weight="bold">c</tspan>)</text>
<polyline points="154.15,324.9 154.95,326.86 155.35,327.54 155.75,328 156.15,328.2 156.55,328.13 156.95,327.89 157.35,327.47 157.75,326.88 158.55,325.19 159.35,322.87 160.56,318.31 161.36,314.67 162.16,310.62 163.36,304 167.76,278.29 169.36,269.96 170.96,262.74 171.76,259.59 172.56,256.77 173.36,254.25 174.16,252.03 174.96,250.09 175.76,248.42 176.56,246.99 177.77,245.25" fill="none" stroke="#4cdc84" stroke-width="1.1" stroke-linejoin="round" stroke-linecap="round"/>
<polyline points="125.34,240.6 150.15,240.6 152.95,240.69 154.15,240.93 154.95,241.32 155.35,241.65 155.75,242.1 156.15,242.71 156.55,243.51 156.95,244.55 157.35,245.88 158.15,249.58 158.95,254.94 159.35,258.31 159.75,262.15 160.56,271.11 162.96,302.83 163.76,311.95 164.16,315.71 164.56,318.83 164.96,321.26 165.36,323 165.76,324.07 166.16,324.54 166.56,324.58 166.96,324.23 167.36,323.25 167.76,321.51 168.16,318.95 168.56,315.56 169.36,306.49 171.76,271.19 172.56,261.1 173.36,253.28 173.76,250.26 174.16,247.81 174.56,245.86 174.96,244.36 175.36,243.22 175.76,242.39 176.16,241.79 176.56,241.37 176.96,241.09 177.36,240.9 178.17,240.71 179.37,240.62 186.97,240.6" fill="none" stroke="#4cdc84" stroke-width="1.1" stroke-linejoin="round" stroke-linecap="round"/>
<polyline points="62.5,240.6 116.13,240.61 121.33,240.66 124.53,240.8 126.54,241 128.14,241.27 129.74,241.71 130.94,242.19 132.14,242.85 133.34,243.73 134.54,244.89 135.34,245.86 136.54,247.65 137.34,249.09 138.54,251.69 139.34,253.75 140.54,257.35 141.34,260.12 142.95,266.58 144.15,272.2 145.35,278.42 146.95,287.48 150.55,308.76 151.75,315.16 152.55,318.99 153.75,323.85 154.55,326.47 155.35,328.6 155.75,329.5 156.95,331.84 157.75,333.82 158.55,336.63 158.95,338.45 159.35,340.58 160.16,345.79 162.56,365.57 163.36,371.02 163.76,373.04 164.16,374.45 164.56,375.19 164.96,375.24 165.36,374.6 165.76,373.28 166.56,369.08 167.36,363.16 168.16,354.46 168.56,348.95 169.36,335.85 171.36,297.45 172.16,283.43 172.96,271.75 173.36,266.93 174.16,259.24 174.96,253.85 175.36,251.85 176.16,248.87 176.56,247.76 177.36,246.09 178.17,244.87 178.97,243.96 179.77,243.24 180.97,242.42 182.17,241.84 183.77,241.32 185.37,241.01 186.97,240.82 189.77,240.67 194.57,240.61 239.8,240.6" fill="none" stroke="#e9696e" stroke-width="1.05" stroke-linejoin="round" stroke-linecap="round"/>
<polyline points="62.7,233.3 65.03,233.59 68.21,233.99 72,234.46 76.17,234.99 80.48,235.53 84.7,236.07 88.58,236.56 91.9,237 94.76,237.38 97.44,237.75 99.94,238.1 102.28,238.43 104.44,238.74 106.45,239.04 108.3,239.33 110,239.6 111.49,239.85 112.73,240.06 113.78,240.25 114.69,240.43 115.52,240.61 116.31,240.81 117.12,241.04 118,241.3 118.93,241.59 119.86,241.89 120.76,242.21 121.66,242.55 122.53,242.91 123.38,243.31 124.2,243.73 125,244.2 125.77,244.69 126.51,245.2 127.23,245.74 127.92,246.31 128.6,246.93 129.25,247.59 129.88,248.31 130.5,249.1 131.09,249.97 131.66,250.94 132.21,251.96 132.73,253.04 133.24,254.14 133.74,255.25 134.22,256.34 134.7,257.4 135.16,258.44 135.6,259.47 136.03,260.51 136.44,261.55 136.85,262.59 137.26,263.62 137.68,264.66 138.1,265.7 138.54,266.75 138.98,267.81 139.44,268.87 139.89,269.94 140.33,270.99 140.77,272.02 141.2,273.03 141.6,274 141.98,274.92 142.35,275.79 142.71,276.63 143.05,277.45 143.39,278.27 143.72,279.11 144.06,279.98 144.4,280.9 144.75,281.87 145.1,282.86 145.45,283.89 145.79,284.93 146.14,285.99 146.47,287.06 146.79,288.13 147.1,289.2 147.39,290.27 147.67,291.35 147.93,292.44 148.19,293.54 148.44,294.64 148.69,295.75 148.94,296.87 149.2,298 149.45,299.08 149.69,300.1 149.93,301.1 150.16,302.12 150.41,303.2 150.68,304.4 150.97,305.75 151.3,307.3 151.68,309.14 152.12,311.25 152.59,313.56 153.08,315.96 153.56,318.35 154.02,320.66 154.44,322.77 154.8,324.6 155.1,326.16 155.36,327.54 155.59,328.78 155.79,329.89 155.98,330.93 156.15,331.9 156.32,332.85 156.5,333.8 156.66,334.69 156.8,335.46 156.93,336.16 157.04,336.82 157.17,337.5 157.31,338.23 157.49,339.04 157.7,340 157.94,341.06 158.2,342.18 158.48,343.36 158.79,344.61 159.12,345.93 159.48,347.34 159.87,348.82 160.3,350.4 160.8,352.19 161.38,354.26 162.01,356.47 162.67,358.73 163.31,360.92 163.92,362.94 164.46,364.67 164.9,366 165.23,367 165.48,367.81 165.66,368.41 165.8,368.79 165.92,368.95 166.05,368.86 166.2,368.51 166.4,367.9 166.64,367.04 166.91,365.94 167.19,364.61 167.48,363.02 167.77,361.18 168.06,359.07 168.34,356.68 168.6,354 168.85,350.9 169.09,347.31 169.33,343.38 169.56,339.21 169.78,334.94 169.99,330.68 170.2,326.56 170.4,322.7 170.59,319.1 170.76,315.65 170.92,312.29 171.08,308.97 171.23,305.63 171.38,302.23 171.54,298.7 171.7,295 171.87,290.97 172.03,286.61 172.2,282.06 172.36,277.47 172.53,273 172.71,268.8 172.9,265.02 173.1,261.8 173.31,259.17 173.52,256.97 173.74,255.15 173.97,253.62 174.21,252.3 174.46,251.13 174.72,250.02 175,248.9 175.29,247.83 175.57,246.92 175.87,246.13 176.18,245.45 176.51,244.86 176.87,244.33 177.27,243.86 177.7,243.4 178.16,242.99 178.64,242.67 179.15,242.41 179.69,242.2 180.26,242.04 180.89,241.91 181.56,241.8 182.3,241.7 183.03,241.62 183.72,241.58 184.42,241.58 185.19,241.6 186.08,241.64 187.14,241.69 188.43,241.75 190,241.8 191.84,241.85 193.91,241.89 196.17,241.94 198.62,242 201.24,242.08 204.02,242.18 206.95,242.32 210,242.5 213.46,242.74 217.46,243.06 221.77,243.42 226.15,243.79 230.38,244.17 234.22,244.51 237.43,244.79 239.8,245" fill="none" stroke="#383838" stroke-width="1.0" stroke-linejoin="round" stroke-linecap="round"/>
<line x1="239.8" y1="240.3" x2="239.8" y2="249.5" stroke="#d23ad2" stroke-width="0.7"/>
<rect x="238.9" y="240.3" width="1.8" height="3" rx="0.9" fill="#d23ad2"/>
<rect x="238.9" y="246.5" width="1.8" height="3" rx="0.9" fill="#d23ad2"/>
<line x1="201.1" y1="362.5" x2="219.5" y2="362.5" stroke="#4fe3e8" stroke-width="1.2"/>
<line x1="201.1" y1="371.6" x2="219.5" y2="371.6" stroke="#4fe3e8" stroke-width="1.2"/>
<line x1="201.1" y1="362.1" x2="201.1" y2="372" stroke="#3a3a3a" stroke-width="0.9"/>
<line x1="202" y1="363.1" x2="202" y2="371" stroke="#f09a9e" stroke-width="0.8"/>
<line x1="201.1" y1="367" x2="219.5" y2="367" stroke="#444" stroke-width="1.1"/>
<text x="220.8" y="370.1" font-family="'Liberation Sans', Arial, sans-serif" font-size="8.2" text-anchor="start" fill="#1a1f33" font-weight="bold" textLength="40.3" lengthAdjust="spacingAndGlyphs">PA6_1.25_5</text>
<text x="51.6" y="322.4" font-family="'Liberation Serif', serif" font-size="11" text-anchor="start" fill="#111" font-weight="bold" textLength="64.4" lengthAdjust="spacingAndGlyphs">DSC analysis</text>
<text x="51.6" y="339" font-family="'Liberation Serif', serif" font-size="11" text-anchor="start" fill="#ff1a1a" font-weight="bold" textLength="87.4" lengthAdjust="spacingAndGlyphs">result of matching</text>
<text x="51.6" y="355" font-family="'Liberation Serif', serif" font-size="11" text-anchor="start" fill="#10ee55" font-weight="bold" textLength="82.8" lengthAdjust="spacingAndGlyphs">designated peaks</text>
<line x1="320.3" y1="381" x2="538.2" y2="381" stroke="#2b2b2b" stroke-width="1.1"/>
<line x1="320.8" y1="221" x2="320.8" y2="381.5" stroke="#2b2b2b" stroke-width="1.1"/>
<line x1="320.7" y1="381" x2="320.7" y2="384" stroke="#2b2b2b" stroke-width="1.1"/>
<text x="320.7" y="392.2" font-family="'Liberation Sans', Arial, sans-serif" font-size="7" text-anchor="middle" fill="#222" font-weight="bold" textLength="9.58" lengthAdjust="spacingAndGlyphs">160</text>
<line x1="360.4" y1="381" x2="360.4" y2="384" stroke="#2b2b2b" stroke-width="1.1"/>
<text x="360.4" y="392.2" font-family="'Liberation Sans', Arial, sans-serif" font-size="7" text-anchor="middle" fill="#222" font-weight="bold" textLength="9.58" lengthAdjust="spacingAndGlyphs">180</text>
<line x1="400.1" y1="381" x2="400.1" y2="384" stroke="#2b2b2b" stroke-width="1.1"/>
<text x="400.1" y="392.2" font-family="'Liberation Sans', Arial, sans-serif" font-size="7" text-anchor="middle" fill="#222" font-weight="bold" textLength="9.58" lengthAdjust="spacingAndGlyphs">200</text>
<line x1="439.8" y1="381" x2="439.8" y2="384" stroke="#2b2b2b" stroke-width="1.1"/>
<text x="439.8" y="392.2" font-family="'Liberation Sans', Arial, sans-serif" font-size="7" text-anchor="middle" fill="#222" font-weight="bold" textLength="9.58" lengthAdjust="spacingAndGlyphs">220</text>
<line x1="479.5" y1="381" x2="479.5" y2="384" stroke="#2b2b2b" stroke-width="1.1"/>
<text x="479.5" y="392.2" font-family="'Liberation Sans', Arial, sans-serif" font-size="7" text-anchor="middle" fill="#222" font-weight="bold" textLength="9.58" lengthAdjust="spacingAndGlyphs">240</text>
<line x1="519.2" y1="381" x2="519.2" y2="384" stroke="#2b2b2b" stroke-width="1.1"/>
<text x="519.2" y="392.2" font-family="'Liberation Sans', Arial, sans-serif" font-size="7" text-anchor="middle" fill="#222" font-weight="bold" textLength="9.58" lengthAdjust="spacingAndGlyphs">260</text>
<line x1="340.55" y1="381" x2="340.55" y2="382.5" stroke="#2b2b2b" stroke-width="1.1"/>
<line x1="380.25" y1="381" x2="380.25" y2="382.5" stroke="#2b2b2b" stroke-width="1.1"/>
<line x1="419.95" y1="381" x2="419.95" y2="382.5" stroke="#2b2b2b" stroke-width="1.1"/>
<line x1="459.65" y1="381" x2="459.65" y2="382.5" stroke="#2b2b2b" stroke-width="1.1"/>
<line x1="499.35" y1="381" x2="499.35" y2="382.5" stroke="#2b2b2b" stroke-width="1.1"/>
<line x1="539.05" y1="381" x2="539.05" y2="382.5" stroke="#2b2b2b" stroke-width="1.1"/>
<line x1="317.8" y1="230.3" x2="320.8" y2="230.3" stroke="#2b2b2b" stroke-width="1.1"/>
<text x="316" y="232.26" font-family="'Liberation Sans', Arial, sans-serif" font-size="7" text-anchor="end" fill="#222" font-weight="bold" textLength="11.4" lengthAdjust="spacingAndGlyphs">-0.4</text>
<line x1="317.8" y1="249.12" x2="320.8" y2="249.12" stroke="#2b2b2b" stroke-width="1.1"/>
<text x="316" y="251.08" font-family="'Liberation Sans', Arial, sans-serif" font-size="7" text-anchor="end" fill="#222" font-weight="bold" textLength="11.4" lengthAdjust="spacingAndGlyphs">-0.6</text>
<line x1="317.8" y1="267.94" x2="320.8" y2="267.94" stroke="#2b2b2b" stroke-width="1.1"/>
<text x="316" y="269.9" font-family="'Liberation Sans', Arial, sans-serif" font-size="7" text-anchor="end" fill="#222" font-weight="bold" textLength="11.4" lengthAdjust="spacingAndGlyphs">-0.8</text>
<line x1="317.8" y1="286.76" x2="320.8" y2="286.76" stroke="#2b2b2b" stroke-width="1.1"/>
<text x="316" y="288.72" font-family="'Liberation Sans', Arial, sans-serif" font-size="7" text-anchor="end" fill="#222" font-weight="bold" textLength="11.4" lengthAdjust="spacingAndGlyphs">-1.0</text>
<line x1="317.8" y1="305.58" x2="320.8" y2="305.58" stroke="#2b2b2b" stroke-width="1.1"/>
<text x="316" y="307.54" font-family="'Liberation Sans', Arial, sans-serif" font-size="7" text-anchor="end" fill="#222" font-weight="bold" textLength="11.4" lengthAdjust="spacingAndGlyphs">-1.2</text>
<line x1="317.8" y1="324.4" x2="320.8" y2="324.4" stroke="#2b2b2b" stroke-width="1.1"/>
<text x="316" y="326.36" font-family="'Liberation Sans', Arial, sans-serif" font-size="7" text-anchor="end" fill="#222" font-weight="bold" textLength="11.4" lengthAdjust="spacingAndGlyphs">-1.4</text>
<line x1="317.8" y1="343.22" x2="320.8" y2="343.22" stroke="#2b2b2b" stroke-width="1.1"/>
<text x="316" y="345.18" font-family="'Liberation Sans', Arial, sans-serif" font-size="7" text-anchor="end" fill="#222" font-weight="bold" textLength="11.4" lengthAdjust="spacingAndGlyphs">-1.6</text>
<line x1="317.8" y1="362.04" x2="320.8" y2="362.04" stroke="#2b2b2b" stroke-width="1.1"/>
<text x="316" y="364" font-family="'Liberation Sans', Arial, sans-serif" font-size="7" text-anchor="end" fill="#222" font-weight="bold" textLength="11.4" lengthAdjust="spacingAndGlyphs">-1.8</text>
<line x1="317.8" y1="380.86" x2="320.8" y2="380.86" stroke="#2b2b2b" stroke-width="1.1"/>
<text x="316" y="382.82" font-family="'Liberation Sans', Arial, sans-serif" font-size="7" text-anchor="end" fill="#222" font-weight="bold" textLength="11.4" lengthAdjust="spacingAndGlyphs">-2.0</text>
<line x1="319.3" y1="220.89" x2="320.8" y2="220.89" stroke="#2b2b2b" stroke-width="1.1"/>
<line x1="319.3" y1="239.71" x2="320.8" y2="239.71" stroke="#2b2b2b" stroke-width="1.1"/>
<line x1="319.3" y1="258.53" x2="320.8" y2="258.53" stroke="#2b2b2b" stroke-width="1.1"/>
<line x1="319.3" y1="277.35" x2="320.8" y2="277.35" stroke="#2b2b2b" stroke-width="1.1"/>
<line x1="319.3" y1="296.17" x2="320.8" y2="296.17" stroke="#2b2b2b" stroke-width="1.1"/>
<line x1="319.3" y1="314.99" x2="320.8" y2="314.99" stroke="#2b2b2b" stroke-width="1.1"/>
<line x1="319.3" y1="333.81" x2="320.8" y2="333.81" stroke="#2b2b2b" stroke-width="1.1"/>
<line x1="319.3" y1="352.63" x2="320.8" y2="352.63" stroke="#2b2b2b" stroke-width="1.1"/>
<line x1="319.3" y1="371.45" x2="320.8" y2="371.45" stroke="#2b2b2b" stroke-width="1.1"/>
<text x="430.4" y="404.8" font-family="'Liberation Sans', Arial, sans-serif" font-size="8.6" text-anchor="middle" fill="#111" stroke="#111" stroke-width="0.15" textLength="61.8" lengthAdjust="spacingAndGlyphs">Temperature (°C)</text>
<text x="296.3" y="295.5" font-family="'Liberation Sans', Arial, sans-serif" font-size="8.4" text-anchor="middle" fill="#111" stroke="#111" stroke-width="0.15" transform="rotate(-90 296.3 295.5)" textLength="56" lengthAdjust="spacingAndGlyphs">Heat Flow (W/g)</text>
<text x="412.7" y="424.2" font-family="'Liberation Serif', serif" font-size="15" text-anchor="middle" fill="#111" textLength="16.8" lengthAdjust="spacingAndGlyphs">(<tspan font-weight="bold">d</tspan>)</text>
<polyline points="439.4,364.37 439.8,365.06 440.2,364.94 440.6,364.25 441,363.02 441.4,361.26 441.8,359 442.6,353.08 443.4,345.57 444.2,336.84 447.4,297.44 448.6,283.92 449.8,272.29 451,262.84 452.2,255.56 452.6,253.58 453.4,250.23 453.8,248.83 454.6,246.51 455.4,244.74 456.2,243.42" fill="none" stroke="#48da74" stroke-width="1.1" stroke-linejoin="round" stroke-linecap="round"/>
<polyline points="416.2,240.3 437.4,240.33 438.6,240.44 439.4,240.67 440.2,241.17 440.6,241.59 441,242.18 441.4,242.96 441.8,244 442.2,245.33 442.6,247 443,249.01 443.8,254.12 445.4,266.99 446.2,272.82 446.6,275.03 447,276.59 447.4,277.4 447.8,277.4 448.2,276.59 448.6,275.03 449,272.82 449.8,266.99 451,257.13 451.8,251.39 452.6,247 453,245.33 453.4,244 453.8,242.96 454.2,242.18 454.6,241.59 455,241.17 455.8,240.67 456.6,240.44 457.4,240.35 461.4,240.3" fill="none" stroke="#48da74" stroke-width="1.1" stroke-linejoin="round" stroke-linecap="round"/>
<polyline points="341,240.3 407,240.3 413.8,240.39 415.4,240.49 417,240.7 418.2,240.98 419,241.26 419.8,241.63 420.6,242.13 421.4,242.8 422.2,243.67 423,244.79 423.4,245.47 424.2,247.09 425,249.12 425.8,251.63 426.6,254.7 427.4,258.39 428.2,262.77 429,267.89 430.2,277.01 431.8,291.83 433,304.62 435.8,336.56 436.6,345 437.4,352.51 438.2,358.72 438.6,361.21 439,363.24 439.4,364.74 439.8,365.63 440.2,365.81 440.6,365.54 441,364.9 441.4,363.92 442.2,361.29 445.4,348.98 446.2,344.73 446.6,341.94 447.4,334.54 448.2,324.53 451,279.68 451.8,268.85 452.2,264.28 453,256.84 453.8,251.49 454.2,249.47 455,246.43 455.4,245.31 456.2,243.65 456.6,243.04 457.4,242.13 457.8,241.79 458.6,241.28 459.4,240.94 460.6,240.63 461.8,240.46 463,240.38 468.2,240.3 519,240.3" fill="none" stroke="#e9727a" stroke-width="1.05" stroke-linejoin="round" stroke-linecap="round"/>
<polyline points="341,238.3 343.32,238.4 346.5,238.53 350.29,238.69 354.46,238.86 358.75,239.04 362.94,239.21 366.77,239.37 370,239.5 372.73,239.6 375.24,239.69 377.53,239.77 379.64,239.84 381.59,239.91 383.4,239.97 385.1,240.03 386.7,240.1 388.15,240.16 389.4,240.2 390.49,240.24 391.46,240.28 392.36,240.32 393.22,240.39 394.09,240.48 395,240.6 395.93,240.76 396.82,240.94 397.69,241.14 398.54,241.36 399.37,241.59 400.21,241.85 401.05,242.12 401.9,242.4 402.77,242.69 403.65,243 404.54,243.32 405.42,243.66 406.29,244.01 407.15,244.39 407.99,244.78 408.8,245.2 409.59,245.65 410.36,246.12 411.11,246.62 411.84,247.14 412.56,247.67 413.26,248.21 413.94,248.75 414.6,249.3 415.24,249.85 415.86,250.41 416.47,250.99 417.05,251.57 417.62,252.15 418.16,252.74 418.69,253.32 419.2,253.9 419.69,254.47 420.15,255.04 420.58,255.6 421.01,256.16 421.41,256.73 421.81,257.31 422.21,257.9 422.6,258.5 422.99,259.12 423.37,259.76 423.75,260.41 424.12,261.06 424.48,261.72 424.83,262.39 425.17,263.05 425.5,263.7 425.82,264.35 426.13,264.99 426.43,265.63 426.72,266.27 427,266.91 427.27,267.56 427.54,268.23 427.8,268.9 428.05,269.58 428.29,270.27 428.52,270.97 428.74,271.68 428.96,272.39 429.18,273.11 429.39,273.85 429.6,274.6 429.81,275.28 430,275.84 430.19,276.36 430.38,276.93 430.57,277.6 430.77,278.45 430.98,279.56 431.2,281 431.44,282.82 431.7,284.97 431.97,287.37 432.25,289.96 432.53,292.65 432.8,295.39 433.06,298.1 433.3,300.7 433.52,303.24 433.74,305.8 433.94,308.39 434.14,310.99 434.33,313.59 434.52,316.2 434.71,318.81 434.9,321.4 435.09,324.02 435.28,326.67 435.47,329.34 435.65,332.01 435.83,334.64 436.02,337.21 436.21,339.71 436.4,342.1 436.59,344.44 436.79,346.78 436.98,349.08 437.17,351.3 437.37,353.41 437.58,355.37 437.78,357.15 438,358.7 438.23,360.04 438.46,361.22 438.7,362.23 438.95,363.07 439.2,363.77 439.44,364.32 439.67,364.73 439.9,365 440.11,365.12 440.31,365.07 440.5,364.86 440.69,364.52 440.88,364.05 441.08,363.46 441.28,362.77 441.5,362 441.73,361.13 441.96,360.16 442.19,359.07 442.44,357.88 442.69,356.57 442.95,355.16 443.22,353.63 443.5,352 443.8,350.25 444.12,348.38 444.45,346.4 444.79,344.31 445.14,342.12 445.47,339.84 445.79,337.46 446.1,335 446.39,332.41 446.68,329.65 446.95,326.77 447.23,323.81 447.49,320.82 447.74,317.82 447.97,314.87 448.2,312 448.41,309.19 448.6,306.38 448.79,303.59 448.96,300.81 449.12,298.06 449.28,295.34 449.44,292.65 449.6,290 449.76,287.32 449.92,284.58 450.08,281.83 450.23,279.13 450.38,276.54 450.53,274.12 450.67,271.92 450.8,270 450.92,268.48 451.01,267.34 451.09,266.46 451.18,265.74 451.27,265.04 451.38,264.24 451.52,263.24 451.7,261.9 451.92,260.15 452.16,258.08 452.43,255.8 452.72,253.42 453.04,251.06 453.37,248.85 453.73,246.89 454.1,245.3 454.48,244.08 454.87,243.11 455.27,242.34 455.7,241.74 456.16,241.26 456.65,240.86 457.2,240.49 457.8,240.1 458.27,239.75 458.52,239.49 458.71,239.31 458.99,239.18 459.53,239.09 460.47,239.01 461.97,238.92 464.2,238.8 467.38,238.66 471.48,238.53 476.21,238.39 481.31,238.27 486.51,238.15 491.54,238.05 496.13,237.97 500,237.9 503.31,237.86 506.38,237.84 509.19,237.83 511.74,237.84 514,237.86 515.98,237.88 517.65,237.89 519,237.9" fill="none" stroke="#454545" stroke-width="1.0" stroke-linejoin="round" stroke-linecap="round"/>
<line x1="341" y1="233.6" x2="341" y2="242.9" stroke="#d23ad2" stroke-width="0.7"/>
<rect x="340.1" y="233.6" width="1.8" height="3" rx="0.9" fill="#d23ad2"/>
<rect x="340.1" y="239.9" width="1.8" height="3" rx="0.9" fill="#d23ad2"/>
<line x1="519" y1="233.2" x2="519" y2="242.2" stroke="#d23ad2" stroke-width="0.7"/>
<rect x="518.1" y="233.2" width="1.8" height="3" rx="0.9" fill="#d23ad2"/>
<rect x="518.1" y="239.2" width="1.8" height="3" rx="0.9" fill="#d23ad2"/>
<line x1="466.1" y1="358" x2="485.9" y2="358" stroke="#4fe3e8" stroke-width="1.2"/>
<line x1="466.1" y1="367" x2="485.9" y2="367" stroke="#4fe3e8" stroke-width="1.2"/>
<line x1="466.1" y1="357.6" x2="466.1" y2="367.4" stroke="#3a3a3a" stroke-width="0.9"/>
<line x1="467" y1="358.6" x2="467" y2="366.4" stroke="#f09a9e" stroke-width="0.8"/>
<line x1="485.9" y1="357.6" x2="485.9" y2="367.4" stroke="#3a3a3a" stroke-width="0.9"/>
<line x1="485" y1="358.6" x2="485" y2="366.4" stroke="#f09a9e" stroke-width="0.8"/>
<line x1="466.1" y1="362.4" x2="485.9" y2="362.4" stroke="#444" stroke-width="1.1"/>
<text x="490.5" y="365.3" font-family="'Liberation Sans', Arial, sans-serif" font-size="8.2" text-anchor="start" fill="#1a1f33" font-weight="bold" textLength="42.5" lengthAdjust="spacingAndGlyphs">PA6_1.56_5</text>
<text x="333" y="330" font-family="'Liberation Serif', serif" font-size="11" text-anchor="start" fill="#111" font-weight="bold" textLength="64.4" lengthAdjust="spacingAndGlyphs">DSC analysis</text>
<text x="333" y="346.6" font-family="'Liberation Serif', serif" font-size="11" text-anchor="start" fill="#ff1a1a" font-weight="bold" textLength="87.6" lengthAdjust="spacingAndGlyphs">result of matching</text>
<text x="333" y="363" font-family="'Liberation Serif', serif" font-size="11" text-anchor="start" fill="#10ee55" font-weight="bold" textLength="83.6" lengthAdjust="spacingAndGlyphs">designated peaks</text>
</svg>
</body></html>
